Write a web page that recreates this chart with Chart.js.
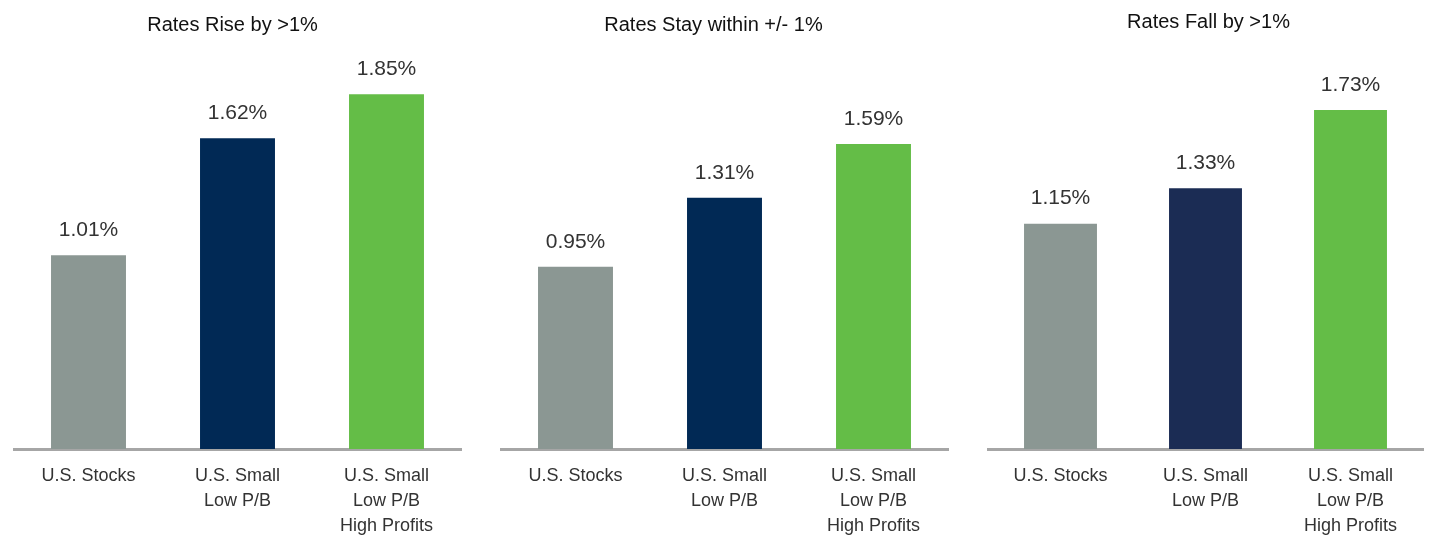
<!DOCTYPE html>
<html>
<head>
<meta charset="utf-8">
<script src="https://cdn.jsdelivr.net/npm/chart.js@4.4.1/dist/chart.umd.min.js"></script>
<style>
  html, body { margin: 0; padding: 0; background: #ffffff; }
  #wrap { position: relative; width: 1440px; height: 559px; overflow: hidden; }
  .panel { position: absolute; top: 0; height: 559px; }
</style>
</head>
<body>
<div id="wrap">
  <div class="panel" style="left:0px;width:480px;"><canvas id="c1"></canvas></div>
  <div class="panel" style="left:480px;width:480px;"><canvas id="c2"></canvas></div>
  <div class="panel" style="left:960px;width:480px;"><canvas id="c3"></canvas></div>
</div>
<script>
// ---- Data ----
const categories = [["U.S. Stocks"], ["U.S. Small", "Low P/B"], ["U.S. Small", "Low P/B", "High Profits"]];
const panelTitles = ["Rates Rise by >1%", "Rates Stay within +/- 1%", "Rates Fall by >1%"];
const ratesRise = [1.01, 1.62, 1.85];
const ratesStay = [0.95, 1.31, 1.59];
const ratesFall = [1.15, 1.33, 1.73];
const yMaxByPanel = [2.028, 2.028, 1.985];

// ---- Styles ----
const FONT = "'Liberation Sans', Arial, Helvetica, sans-serif";
const panelColors = [
  ["#8b9793", "#012955", "#64bd47"],
  ["#8b9793", "#012955", "#64bd47"],
  ["#8b9793", "#1b2c54", "#64bd47"]
];
const panelPads = [
  {left: 14, right: 19},
  {left: 21, right: 12},
  {left: 28, right: 17}
];
const titleOffsets = [-5, -11, 3];
const titleY = [25, 25, 22];

const valueLabelPlugin = {
  id: 'valueLabels',
  afterDatasetsDraw(chart) {
    const ctx = chart.ctx;
    ctx.save();
    ctx.font = "21px " + FONT;
    ctx.fillStyle = "#333333";
    ctx.textAlign = "center";
    ctx.textBaseline = "middle";
    chart.data.datasets.forEach((ds, di) => {
      const meta = chart.getDatasetMeta(di);
      meta.data.forEach((bar, i) => {
        ctx.fillText(ds.data[i].toFixed(2) + "%", bar.x, bar.y - 25);
      });
    });
    ctx.restore();
  }
};

const panelTitlePlugin = {
  id: 'panelTitle',
  afterDraw(chart, args, opts) {
    const ctx = chart.ctx;
    const a = chart.chartArea;
    ctx.save();
    ctx.font = "20px " + FONT;
    ctx.fillStyle = "#111111";
    ctx.textAlign = "center";
    ctx.textBaseline = "middle";
    ctx.fillText(opts.text, (a.left + a.right) / 2 + opts.dx, opts.y);
    ctx.restore();
  }
};

function makeChart(id, idx, values) {
  const pad = panelPads[idx];
  return new Chart(document.getElementById(id), {
    type: 'bar',
    data: {
      labels: categories,
      datasets: [{
        data: values,
        backgroundColor: panelColors[idx],
        borderWidth: 0,
        categoryPercentage: 1.0,
        barPercentage: 0.503
      }]
    },
    options: {
      responsive: true,
      maintainAspectRatio: false,
      animation: false,
      events: [],
      layout: { padding: { top: 60, bottom: 5, left: pad.left, right: pad.right } },
      plugins: {
        legend: { display: false },
        title: { display: false },
        tooltip: { enabled: false },
        panelTitle: { text: panelTitles[idx], dx: titleOffsets[idx], y: titleY[idx] }
      },
      scales: {
        x: {
          grid: { display: false, drawTicks: false },
          border: { display: true, color: "#a6a6a6", width: 3 },
          ticks: {
            color: "#333333",
            padding: 15,
            font: { family: FONT, size: 18, lineHeight: 25 / 18 },
            maxRotation: 0,
            autoSkip: false
          }
        },
        y: {
          display: false,
          min: 0,
          max: yMaxByPanel[idx]
        }
      }
    },
    plugins: [valueLabelPlugin, panelTitlePlugin]
  });
}

makeChart('c1', 0, ratesRise);
makeChart('c2', 1, ratesStay);
makeChart('c3', 2, ratesFall);
</script>
</body>
</html>
